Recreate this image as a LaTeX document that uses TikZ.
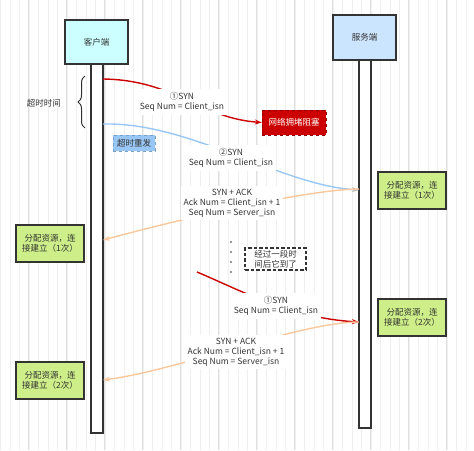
\documentclass[tikz,border=0pt]{standalone}
\usepackage{fontspec}
\setmainfont{Noto Sans CJK SC}
\usetikzlibrary{arrows.meta,positioning,decorations.pathreplacing}
\definecolor{clientfill}{HTML}{CCFFFF}
\definecolor{serverfill}{HTML}{CCE5FF}
\definecolor{jamred}{HTML}{CC0000}
\definecolor{resendblue}{HTML}{99C7F5}
\definecolor{ackorange}{HTML}{FAC89C}
\definecolor{donegreen}{HTML}{CDEE88}
\definecolor{txtgray}{HTML}{333333}
\definecolor{gridminor}{HTML}{EFEFEF}
\definecolor{gridmajor}{HTML}{E0E0E0}
\tikzset{
  every node/.style={text=txtgray, font=\fontsize{8.5}{10}\selectfont},
  actor/.style={draw=txtgray, line width=1.1pt, minimum width=63, minimum height=44},
  lifeline/.style={draw=txtgray, line width=1.1pt, fill=white, minimum width=12},
  donebox/.style={draw=txtgray, line width=1.1pt, fill=donegreen, minimum width=68,
    minimum height=37, align=center, inner sep=1},
  msg/.style={fill=white, align=center, inner sep=3},
  syn/.style={line width=1.4pt, -{Stealth[length=7pt,width=5pt]}},
}
\begin{document}
\begin{tikzpicture}[x=1pt,y=-1pt]
\useasboundingbox (0,0) rectangle (474,450);
% background grid
\draw[gridminor, step=9.5, shift={(0.3,0.3)}] (-0.3,-0.3) grid (474,450);
\draw[gridmajor, step=38, shift={(28.2,28)}] (-28.2,-28) grid (446,422);
% the two ends
\node[lifeline, minimum height=369] (cl) at (97,248.5) {};
\node[lifeline, minimum height=368] (sl) at (365,244) {};
\node[actor, fill=clientfill] (client) at (96.5,42) {客户端};
\node[actor, fill=serverfill, minimum height=45] (server) at (364.5,37.5) {服务端};
% timeout brace
\draw[txtgray, line width=1pt, decorate, decoration={brace, amplitude=7pt}]
  (85,128) -- (85,76);
\node (timeout) at (44,103) {超时时间};
% boxes
\node[draw=jamred!70!black, dashed, fill=jamred, text=white, minimum width=64,
  minimum height=25] (jam) at (294,122.5) {网络拥堵阻塞};
\node[draw=resendblue!80!black, dashed, fill=resendblue, minimum width=42,
  minimum height=16, inner sep=1] (resend) at (134,143) {超时重发};
\node[donebox] (sdone1) at (412,190.5) {分配资源，连\\接建立（1次）};
\node[donebox] (cdone1) at (50,243.5) {分配资源，连\\接建立（1次）};
\node[donebox] (sdone2) at (412,317.5) {分配资源，连\\接建立（2次）};
\node[donebox] (cdone2) at (50,380.5) {分配资源，连\\接建立（2次）};
\node[draw=txtgray, dash pattern=on 3.5pt off 2pt, line width=1.2pt, fill=white,
  minimum width=61, minimum height=22, align=center, inner sep=1] (later)
  at (275.5,259) {经过一段时\\间后它到了};
\foreach \y in {242,252,262,272}
  \fill[txtgray] (231,\y) circle (0.8);
% end points on the lines
\coordinate (syn1a) at (103,79);
\coordinate (syn2a) at (103,124);
\coordinate (syn2b) at (359,190);
\coordinate (ack1a) at (359,189);
\coordinate (ack1b) at (103,240);
\coordinate (syn3a) at (197,272);
\coordinate (syn3b) at (359,322);
\coordinate (ack2a) at (359,322);
\coordinate (ack2b) at (103,380);
% messages
\draw[syn, jamred] (syn1a) .. controls (175,80) and (200,118) .. (jam.west);
\draw[syn, resendblue, -{Stealth[length=7pt,width=5pt,color=gray!55]}]
  (syn2a) .. controls (190,122) and (280,185) .. (syn2b);
\draw[syn, ackorange] (ack1a) .. controls (300,190) and (170,222) .. (ack1b);
\draw[syn, jamred] (syn3a) .. controls (240,290) and (290,318) .. (syn3b);
\draw[syn, ackorange] (ack2a) .. controls (300,322) and (180,370) .. (ack2b);
% message labels
\node[msg] (m1) at (182,102) {①SYN\\Seq Num = Client\_isn};
\node[msg] (m2) at (231,158) {②SYN\\Seq Num = Client\_isn};
\node[msg] (m3) at (232,203) {SYN + ACK\\Ack Num = Client\_isn + 1\\Seq Num = Server\_isn};
\node[msg] (m4) at (276,306) {①SYN\\Seq Num = Client\_isn};
\node[msg] (m5) at (236,352) {SYN + ACK\\Ack Num = Client\_isn + 1\\Seq Num = Server\_isn};
\end{tikzpicture}
\end{document}
